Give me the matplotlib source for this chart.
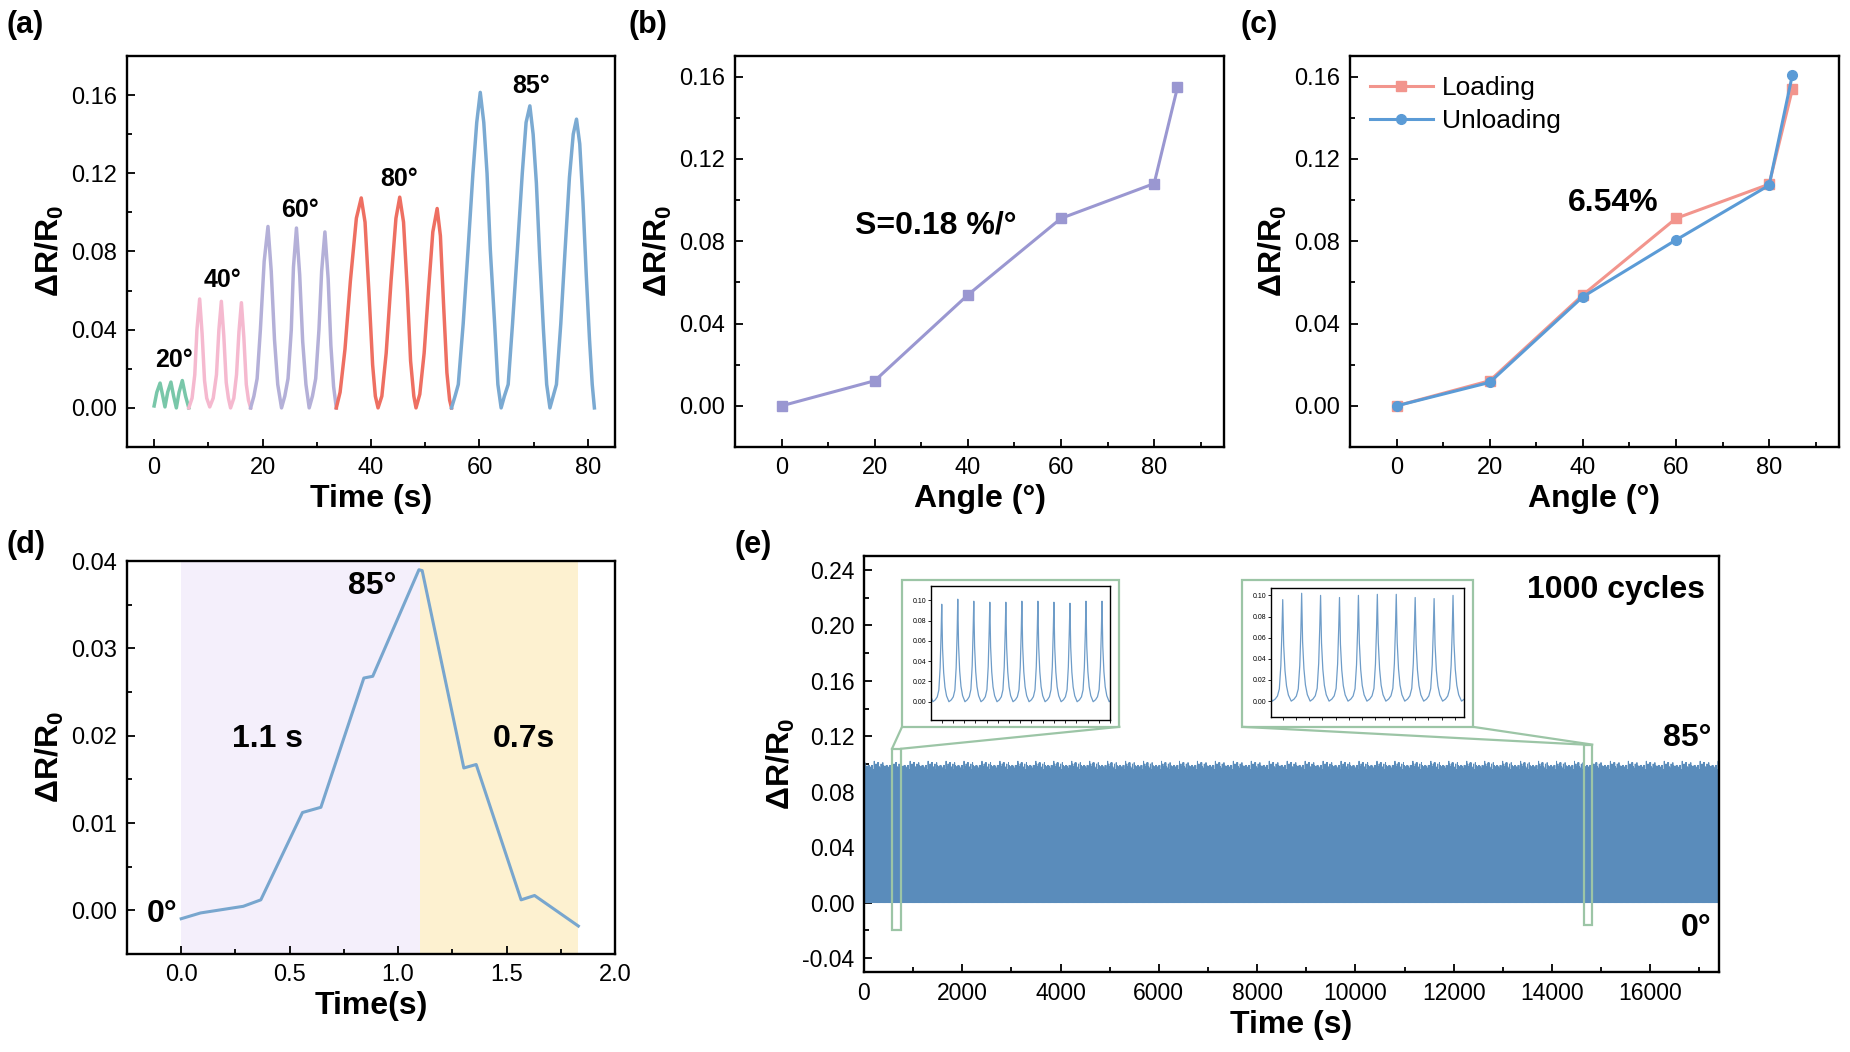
import numpy as np
import matplotlib
matplotlib.use('Agg')
import matplotlib.pyplot as plt
from matplotlib.ticker import MultipleLocator, FormatStrFormatter
from matplotlib.patches import Rectangle

plt.rcParams['font.family'] = ['Liberation Sans', 'DejaVu Sans']
plt.rcParams['mathtext.fontset'] = 'custom'
plt.rcParams['mathtext.rm'] = 'Liberation Sans'
plt.rcParams['mathtext.it'] = 'Liberation Sans:italic'
plt.rcParams['mathtext.bf'] = 'Liberation Sans:bold'
plt.rcParams['axes.unicode_minus'] = False

# ---------------- data: panel (a) ----------------
a_t_20 = [0.0, 0.5, 1.1, 1.6, 2.0, 2.5, 3.1, 3.6, 4.1, 4.6, 5.2, 5.8, 6.4]
a_v_20 = [0.001, 0.008, 0.0127, 0.006, 0.0005, 0.008, 0.0132, 0.006, 0.0, 0.008, 0.014, 0.006, 0.0]
a_t_40 = [6.4, 7.0, 7.5, 7.9, 8.4, 8.85, 9.3, 9.7, 10.26, 10.9, 11.5, 11.95, 12.4, 12.85, 13.3, 13.7,
          14.1, 14.7, 15.2, 15.65, 16.1, 16.55, 17.0, 17.4, 17.8]
a_v_40 = [0.0, 0.005, 0.017, 0.040, 0.0557, 0.038, 0.014, 0.005, 0.0005, 0.005, 0.017, 0.040, 0.0545,
          0.037, 0.013, 0.005, 0.0, 0.005, 0.017, 0.039, 0.0538, 0.036, 0.012, 0.004, 0.0]
a_t_60 = [17.8, 18.4, 19.0, 19.6, 20.3, 21.0, 21.6, 22.2, 22.8, 23.5, 24.1, 24.7, 25.3, 25.7, 26.25,
          26.85, 27.4, 28.0, 28.6, 29.2, 29.8, 30.4, 30.9, 31.5, 32.1, 32.6, 33.1, 33.6]
a_v_60 = [0.0, 0.006, 0.015, 0.040, 0.075, 0.0928, 0.070, 0.035, 0.012, 0.0, 0.006, 0.015, 0.040, 0.072,
          0.092, 0.068, 0.034, 0.012, 0.0, 0.006, 0.015, 0.040, 0.070, 0.090, 0.066, 0.032, 0.011, 0.0]
a_t_80 = [33.6, 34.3, 35.2, 36.2, 37.3, 38.2, 38.9, 39.6, 40.3, 40.8, 41.3, 42.0, 42.8, 43.7, 44.6, 45.3,
          46.0, 46.7, 47.3, 47.9, 48.3, 49.0, 49.8, 50.6, 51.4, 52.2, 52.8, 53.4, 54.0, 54.5, 54.85]
a_v_80 = [0.0, 0.008, 0.030, 0.065, 0.097, 0.1074, 0.095, 0.060, 0.022, 0.006, 0.0, 0.006, 0.028, 0.065,
          0.097, 0.1078, 0.095, 0.060, 0.024, 0.006, 0.0, 0.007, 0.028, 0.060, 0.090, 0.1020, 0.088,
          0.052, 0.018, 0.004, 0.0]
a_t_85 = [54.85, 55.5, 56.1, 57.0, 57.9, 58.8, 59.5, 60.15, 60.8, 61.4, 62.0, 62.8, 63.4, 64.0, 64.6, 65.3,
          66.1, 67.0, 67.9, 68.6, 69.3, 69.9, 70.5, 71.1, 71.8, 72.4, 73.0, 73.6, 74.2, 75.0, 75.8, 76.6,
          77.3, 77.9, 78.5, 79.1, 79.7, 80.3, 80.8, 81.2]
a_v_85 = [0.0, 0.006, 0.012, 0.043, 0.081, 0.120, 0.146, 0.1614, 0.146, 0.120, 0.081, 0.043, 0.012, 0.0,
          0.006, 0.012, 0.043, 0.081, 0.120, 0.146, 0.1545, 0.140, 0.115, 0.078, 0.040, 0.012, 0.0, 0.006,
          0.012, 0.043, 0.081, 0.118, 0.140, 0.1477, 0.135, 0.105, 0.068, 0.035, 0.012, 0.0]
a_labels = ['20°', '40°', '60°', '80°', '85°']
a_label_t = [3.6, 12.7, 26.9, 45.2, 69.5]
a_label_v = [0.0243, 0.0654, 0.1014, 0.117, 0.1645]

# ---------------- data: panels (b), (c) ----------------
angles = [0, 20, 40, 60, 80, 85]
b_resp = [0.0, 0.0122, 0.0539, 0.0911, 0.1080, 0.1547]
c_loading = [0.0, 0.0122, 0.0539, 0.0911, 0.1077, 0.1540]
c_unloading = [0.0, 0.0114, 0.0530, 0.0806, 0.1072, 0.1610]

# ---------------- data: panel (d) ----------------
d_t = [0.0, 0.089, 0.286, 0.367, 0.559, 0.644, 0.842, 0.883, 1.096, 1.111, 1.303, 1.36, 1.567, 1.629, 1.831]
d_v = [-0.00096, -0.0003, 0.00046, 0.0012, 0.0112, 0.0118, 0.0266, 0.0268, 0.0390, 0.0389, 0.0163,
       0.0167, 0.0012, 0.0017, -0.0018]
d_load_end = 1.1
d_unload_end = 1.83

# ---------------- data: panel (e) ----------------
e_cycle_phase = [0.0, 0.05, 0.12, 0.2, 0.3, 0.45, 0.6, 0.72, 0.82, 0.9, 0.96]
e_cycle_shape = [1.0, 0.55, 0.3, 0.15, 0.06, 0.0, 0.02, 0.05, 0.12, 0.35, 0.7]
e_inset1_peaks = [0.096, 0.101, 0.099, 0.098, 0.098, 0.099, 0.099, 0.098, 0.097, 0.099, 0.099]
e_inset2_peaks = [0.096, 0.102, 0.100, 0.098, 0.100, 0.101, 0.101, 0.098, 0.097, 0.100]
e_n_cycles = 1000
e_total_time = 17400.0
e_zoom1_t = [570, 755]
e_zoom2_t = [14646, 14819]


def build_cycles(peaks, first_peak):
    xs, ys = [], []
    for k, p in enumerate([first_peak] + list(peaks)):
        for ph, s in zip(e_cycle_phase, e_cycle_shape):
            xs.append(k - 1 + ph)
            ys.append(p * s)
    return np.array(xs), np.array(ys)


# ---------------- figure ----------------
W, H = 1850, 1052
fig = plt.figure(figsize=(W / 100, H / 100), dpi=100)


def add_ax(l, t, r, b):
    return fig.add_axes([l / W, 1 - b / H, (r - l) / W, (b - t) / H])


TICK = 17
LAB = 23
ANN = 23


def style(ax):
    ax.tick_params(which='both', direction='in', top=False, right=False, labelsize=TICK, width=1.3)
    ax.tick_params(which='major', length=6, pad=7)
    ax.tick_params(which='minor', length=3.5)
    for s in ax.spines.values():
        s.set_linewidth(1.7)


ylab = 'ΔR/R$_{\\mathbf{0}}$'

# (a)
axA = add_ax(127, 56, 615, 447)
for t, v, c in [(a_t_20, a_v_20, '#79C7A9'), (a_t_40, a_v_40, '#F5B9CF'), (a_t_60, a_v_60, '#B4B0D8'),
                (a_t_80, a_v_80, '#EE6F62'), (a_t_85, a_v_85, '#7BAAD2')]:
    axA.plot(t, v, color=c, lw=2.5)
for s, x, y in zip(a_labels, a_label_t, a_label_v):
    axA.text(x, y, s, ha='center', va='center', fontsize=18, fontweight='bold')
axA.set_xlim(-5, 85)
axA.set_ylim(-0.02, 0.18)
axA.xaxis.set_major_locator(MultipleLocator(20))
axA.xaxis.set_minor_locator(MultipleLocator(10))
axA.yaxis.set_major_locator(MultipleLocator(0.04))
axA.yaxis.set_minor_locator(MultipleLocator(0.02))
axA.yaxis.set_major_formatter(FormatStrFormatter('%.2f'))
style(axA)
axA.set_xlabel('Time (s)', fontsize=LAB, fontweight='bold')
axA.set_ylabel(ylab, fontsize=LAB, fontweight='bold')

# (b)
axB = add_ax(735, 56, 1224, 447)
axB.plot(angles, b_resp, color='#9A97D1', lw=2.2, marker='s', ms=6.5)
axB.text(33, 0.0878, 'S=0.18 %/°', ha='center', va='center', fontsize=ANN, fontweight='bold')
axB.set_xlim(-10, 95)
axB.set_ylim(-0.02, 0.17)
# (c)
axC = add_ax(1350, 56, 1839, 447)
axC.plot(angles, c_loading, color='#F2958D', lw=2.2, marker='s', ms=6.5, label='Loading')
axC.plot(angles, c_unloading, color='#5B9BD6', lw=2.2, marker='o', ms=7, label='Unloading')
axC.text(46.6, 0.0984, '6.54%', ha='center', va='center', fontsize=ANN, fontweight='bold')
axC.set_xlim(-10, 95)
axC.set_ylim(-0.02, 0.17)
axC.legend(loc='upper left', frameon=False, fontsize=19, handlelength=2.4, borderaxespad=0.35,
           labelspacing=0.35, handletextpad=0.35)
for ax in (axB, axC):
    ax.xaxis.set_major_locator(MultipleLocator(20))
    ax.xaxis.set_minor_locator(MultipleLocator(10))
    ax.yaxis.set_major_locator(MultipleLocator(0.04))
    ax.yaxis.set_minor_locator(MultipleLocator(0.02))
    ax.yaxis.set_major_formatter(FormatStrFormatter('%.2f'))
    style(ax)
    ax.set_xlabel('Angle (°)', fontsize=LAB, fontweight='bold')
    ax.set_ylabel(ylab, fontsize=LAB, fontweight='bold')

# (d)
axD = add_ax(127, 561, 615, 954)
axD.axvspan(0, d_load_end, color='#F4EFFB', lw=0, zorder=0)
axD.axvspan(d_load_end, d_unload_end, color='#FDF1D0', lw=0, zorder=0)
axD.plot(d_t, d_v, color='#78A6CE', lw=2.2)
axD.text(-0.09, -0.0004, '0°', ha='center', va='center', fontsize=ANN, fontweight='bold')
axD.text(0.88, 0.0371, '85°', ha='center', va='center', fontsize=ANN, fontweight='bold')
axD.text(0.40, 0.0196, '1.1 s', ha='center', va='center', fontsize=ANN, fontweight='bold')
axD.text(1.58, 0.0196, '0.7s', ha='center', va='center', fontsize=ANN, fontweight='bold')
axD.set_xlim(-0.25, 2.0)
axD.set_ylim(-0.005, 0.04)
axD.xaxis.set_major_locator(MultipleLocator(0.5))
axD.xaxis.set_minor_locator(MultipleLocator(0.25))
axD.yaxis.set_major_locator(MultipleLocator(0.01))
axD.yaxis.set_minor_locator(MultipleLocator(0.005))
axD.xaxis.set_major_formatter(FormatStrFormatter('%.1f'))
axD.yaxis.set_major_formatter(FormatStrFormatter('%.2f'))
style(axD)
axD.set_xlabel('Time(s)', fontsize=LAB, fontweight='bold')
axD.set_ylabel(ylab, fontsize=LAB, fontweight='bold')

# (e)
axE = add_ax(864, 556, 1719, 972)
period = e_total_time / e_n_cycles
peaks_all = np.resize(np.array(e_inset1_peaks + e_inset2_peaks), e_n_cycles)
ph = np.array(e_cycle_phase)
sh = np.array(e_cycle_shape)
e_t = ((np.arange(e_n_cycles)[:, None] + ph[None, :]) * period).ravel()
e_v = (peaks_all[:, None] * sh[None, :]).ravel()
axE.plot(e_t, e_v, color='#5A8CBB', lw=0.7)
axE.set_xlim(0, 17400)
axE.set_ylim(-0.05, 0.25)
axE.xaxis.set_major_locator(MultipleLocator(2000))
axE.xaxis.set_minor_locator(MultipleLocator(1000))
axE.yaxis.set_major_locator(MultipleLocator(0.04))
axE.yaxis.set_minor_locator(MultipleLocator(0.02))
axE.yaxis.set_major_formatter(FormatStrFormatter('%.2f'))
style(axE)
axE.tick_params(labelsize=16.5)
axE.set_xlabel('Time (s)', fontsize=LAB, fontweight='bold')
axE.set_ylabel(ylab, fontsize=LAB, fontweight='bold')
axE.text(17112, 0.2258, '1000 cycles', ha='right', va='center', fontsize=ANN, fontweight='bold')
axE.text(17250, 0.119, '85°', ha='right', va='center', fontsize=ANN, fontweight='bold')
axE.text(17250, -0.0185, '0°', ha='right', va='center', fontsize=ANN, fontweight='bold')

GREEN = '#9CC5A6'
boxes = [(774, 5196), (7699, 12392)]
rects = [(e_zoom1_t, -0.020, 0.111), (e_zoom2_t, -0.016, 0.114)]
for (bx0, bx1), (rt, ry0, ry1) in zip(boxes, rects):
    axE.add_patch(Rectangle((bx0, 0.1268), bx1 - bx0, 0.2325 - 0.1268, fill=True, facecolor='white',
                            edgecolor=GREEN, lw=1.6, zorder=4))
    axE.add_patch(Rectangle((rt[0], ry0), rt[1] - rt[0], ry1 - ry0, fill=False, edgecolor=GREEN,
                            lw=1.6, zorder=4))
    axE.plot([bx0, rt[0]], [0.1268, ry1], color=GREEN, lw=1.6, zorder=4)
    axE.plot([bx1, rt[1]], [0.1268, ry1], color=GREEN, lw=1.6, zorder=4)

insets = [((931, 586, 1110, 720), e_inset1_peaks, (-0.67, 10.5), (-0.018, 0.114)),
          ((1271, 588, 1464, 717), e_inset2_peaks, (-0.62, 9.58), (-0.015, 0.107))]
for (l, t, r, b), pk, xl, yl in insets:
    ai = add_ax(l, t, r, b)
    ai.set_zorder(5)
    xs, ys = build_cycles(pk, pk[0])
    ai.plot(xs, ys, color='#6E9CC8', lw=0.9)
    ai.set_xlim(*xl)
    ai.set_ylim(*yl)
    ai.yaxis.set_major_locator(MultipleLocator(0.02))
    ai.yaxis.set_major_formatter(FormatStrFormatter('%.2f'))
    ai.xaxis.set_major_locator(MultipleLocator(1.4))
    ai.xaxis.set_minor_locator(MultipleLocator(0.7))
    ai.tick_params(which='both', direction='out', top=False, right=False, labelsize=5, width=0.6,
                   length=2, pad=1.5)
    ai.tick_params(axis='x', labelbottom=False)
    for s in ai.spines.values():
        s.set_linewidth(1.0)

# panel labels
for s, x, y in [('(a)', 6, 10), ('(b)', 628, 10), ('(c)', 1240, 10), ('(d)', 6, 530), ('(e)', 734, 530)]:
    fig.text(x / W, 1 - y / H, s, ha='left', va='top', fontsize=22, fontweight='bold')

fig.savefig('out.png', dpi=100)
